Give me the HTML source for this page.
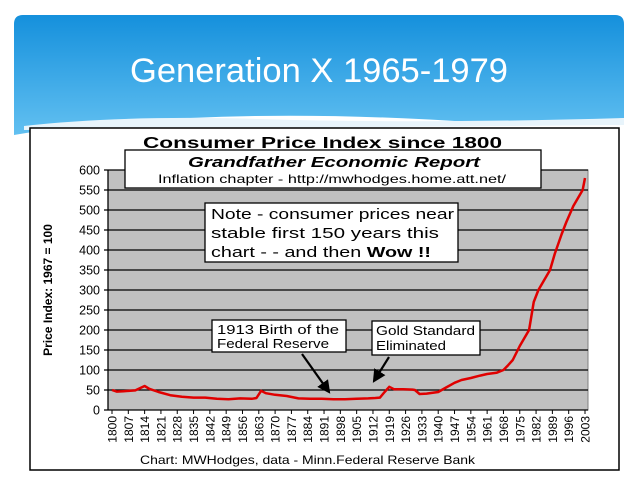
<!DOCTYPE html>
<html><head><meta charset="utf-8"><style>
body{margin:0;width:638px;height:478px;background:#fff;overflow:hidden;font-family:"Liberation Sans",sans-serif}
</style></head><body>
<svg width="638" height="478" viewBox="0 0 638 478" xmlns="http://www.w3.org/2000/svg">
<defs><linearGradient id="bg" x1="0" y1="0" x2="0" y2="1"><stop offset="0" stop-color="#1590dc"/><stop offset="1" stop-color="#62c0f1"/></linearGradient></defs>
<path d="M14,24 Q14,15 23,15 L615,15 Q624,15 624,24 L624,118 Q560,125 470,122 Q320,112 190,118 Q90,122 14,135 Z" fill="url(#bg)"/>
<path d="M24,126 Q120,115 260,119 Q420,124 624,118 L624,125 L24,130Z" fill="#e8f4fb"/>
<text x="130" y="82" textLength="378" lengthAdjust="spacingAndGlyphs" fill="#fff" font-size="34" font-family="'Liberation Sans',sans-serif">Generation X 1965-1979</text>
<rect x="30" y="128" width="589" height="342" fill="#fff" stroke="#000" stroke-width="1.5"/>
<text x="143" y="148" textLength="359" lengthAdjust="spacingAndGlyphs" font-size="16" font-weight="bold">Consumer Price Index since 1800</text>
<g id="chart"></g>
<text transform="translate(52,290) rotate(-90)" text-anchor="middle" font-size="12" font-weight="bold">Price Index: 1967 = 100</text>
<text x="140" y="464" textLength="335" lengthAdjust="spacingAndGlyphs" font-size="12">Chart: MWHodges, data - Minn.Federal Reserve Bank</text>
<g id="ann"></g>
</svg>
<script>
const years=[1800,1802,1805,1810,1814,1816,1820,1825,1830,1835,1840,1845,1850,1855,1860,1862,1864,1866,1870,1875,1880,1885,1890,1895,1900,1905,1910,1913,1915,1917,1919,1921,1925,1929,1930,1932,1935,1940,1943,1947,1950,1954,1958,1961,1965,1968,1970,1972,1975,1977,1979,1981,1983,1985,1988,1990,1993,1995,1998,2000,2002,2003];
const cpi=[50,46,47,49,60,53,45,37,33,31,31,28,27,29,28,30,48,42,38,35,29,28,28,27,27,28,29,30,31,45,58,52,52,51,50,40,41,45,55,68,75,80,86,90,93,100,112,125,160,180,200,270,300,320,350,390,440,470,510,530,550,580];
const yTicks=[0,50,100,150,200,250,300,350,400,450,500,550,600];
const xLabels=[];for(let y=1800;y<=2003;y+=7)xLabels.push(y);
const NS="http://www.w3.org/2000/svg";
const L=108,R=588,T=170,B=410;
const xs=y=>112+(y-1800)*(473/203);
const ys=v=>B-(v/600)*(B-T);
const g=document.getElementById('chart');
function mk(t,a,p){const e=document.createElementNS(NS,t);for(const k in a)e.setAttribute(k,a[k]);(p||g).appendChild(e);return e;}
const bg=mk('rect',{x:L,y:T,width:R-L,height:B-T,fill:'#c0c0c0',stroke:'#808080'});


yTicks.forEach(v=>{
 const l=mk('line',{x1:L-4,x2:R,y1:ys(v),y2:ys(v),stroke:'#000','stroke-width':1.3});
 
 
 const t=mk('text',{x:L-8,y:ys(v)+4.5,'text-anchor':'end','font-size':12.5});
 t.textContent=v;
 
 
});
mk('line',{x1:L,x2:L,y1:T,y2:B,stroke:'#000','stroke-width':1.3});
xLabels.forEach(y=>{
 mk('line',{x1:xs(y),x2:xs(y),y1:B,y2:B+4,stroke:'#000'});
 const t=mk('text',{transform:`translate(${xs(y)+4.5},${B+6}) rotate(-90)`,'text-anchor':'end','font-size':12});
 t.textContent=y;
 
 
});
const p=mk('polyline',{points:years.map((y,i)=>xs(y)+','+ys(cpi[i])).join(' '),fill:'none',stroke:'#e00000','stroke-width':2.5,'stroke-linejoin':'round'});


</script>
<script>
(function(){
const a=document.getElementById('ann');
a.innerHTML=`
<defs><marker id="ah" markerWidth="6" markerHeight="6" refX="5" refY="3" orient="auto"><path d="M0,0L6,3L0,6Z" fill="#000"/></marker></defs>
<g><rect x="125" y="150" width="416" height="38" fill="#fff" stroke="#000" stroke-width="1.3"/>
<text x="188" y="167" textLength="292" lengthAdjust="spacingAndGlyphs" font-size="15" font-weight="bold" font-style="italic">Grandfather Economic Report</text>
<text x="158" y="183" textLength="348" lengthAdjust="spacingAndGlyphs" font-size="12">Inflation chapter - http://mwhodges.home.att.net/</text></g>
<g><rect x="205" y="203" width="253" height="59" fill="#fff" stroke="#000" stroke-width="1.3"/>
<text x="211" y="219" textLength="243" lengthAdjust="spacingAndGlyphs" font-size="15">Note - consumer prices near</text>
<text x="211" y="238" textLength="228" lengthAdjust="spacingAndGlyphs" font-size="15">stable first 150 years this</text>
<text x="211" y="257" textLength="220" lengthAdjust="spacingAndGlyphs" font-size="15">chart - - and then <tspan font-weight="bold">Wow !!</tspan></text></g>
<g><rect x="212" y="320" width="134" height="32" fill="#fff" stroke="#000" stroke-width="1.3"/>
<text x="217" y="334" textLength="122" lengthAdjust="spacingAndGlyphs" font-size="12.5">1913  Birth of the</text><text x="217" y="348" textLength="112" lengthAdjust="spacingAndGlyphs" font-size="12.5">Federal Reserve</text></g>
<g><rect x="372" y="321" width="108" height="34" fill="#fff" stroke="#000" stroke-width="1.3"/>
<text x="376" y="335" textLength="99" lengthAdjust="spacingAndGlyphs" font-size="12.5">Gold Standard</text><text x="376" y="350" textLength="70" lengthAdjust="spacingAndGlyphs" font-size="12.5">Eliminated</text></g>
<line x1="302" y1="354" x2="329" y2="392" stroke="#000" stroke-width="2.2" marker-end="url(#ah)"/>
<line x1="389" y1="357" x2="374" y2="381" stroke="#000" stroke-width="2.2" marker-end="url(#ah)"/>`;
})();
</script>
</body></html>
